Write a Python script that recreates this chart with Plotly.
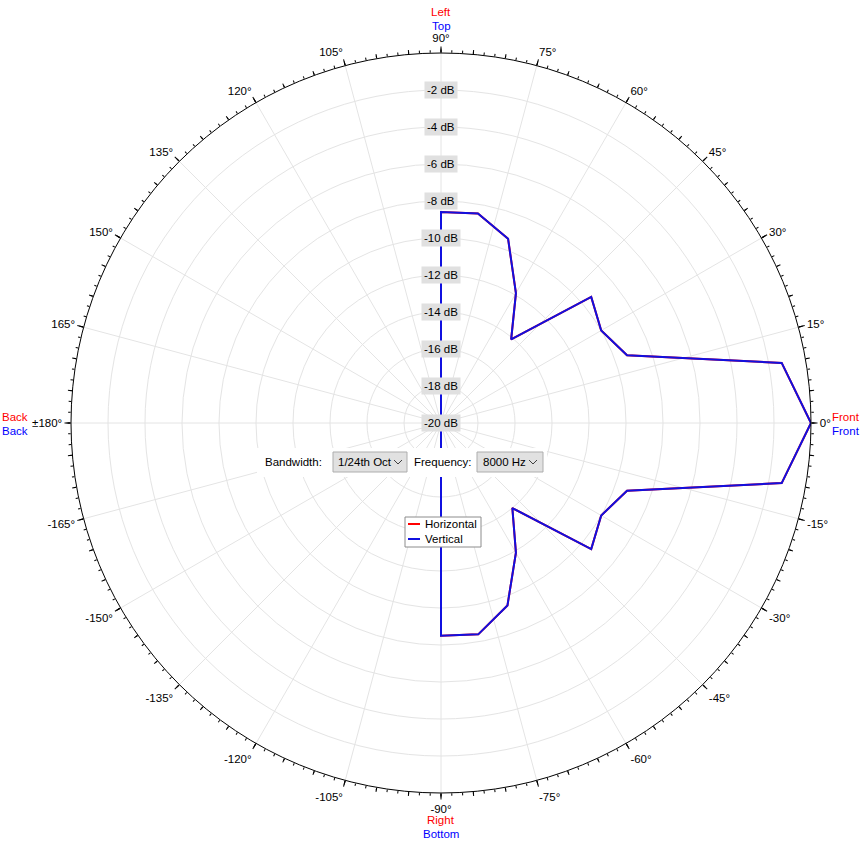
import plotly.graph_objects as go

# measured polar response, 8000 Hz, 1/24th octave (dB vs angle)
angles = list(range(0, 361, 10))
horizontal_db = [0, -1.3, -9.3, -10.0, -9.4, -14.1, -11.9, -9.4, -8.5, -8.6,
                 -20, -20, -20, -20, -20, -20, -20, -20, -20, -20, -20, -20, -20, -20, -20, -20, -20,
                 -8.5, -8.4, -9.5, -11.9, -14.0, -9.4, -10.0, -9.3, -1.3, 0]
vertical_db = [0, -1.3, -9.3, -10.0, -9.4, -14.1, -11.9, -9.4, -8.5, -8.6,
               -20, -20, -20, -20, -20, -20, -20, -20, -20, -20, -20, -20, -20, -20, -20, -20, -20,
               -8.5, -8.4, -9.5, -11.9, -14.0, -9.4, -10.0, -9.3, -1.3, 0]

angle_ticks = list(range(0, 360, 15))
angle_labels = ["0°", "15°", "30°", "45°", "60°", "75°", "90°", "105°", "120°", "135°", "150°", "165°",
                "±180°", "-165°", "-150°", "-135°", "-120°", "-105°", "-90°", "-75°", "-60°", "-45°", "-30°", "-15°"]
db_ticks = [-20, -18, -16, -14, -12, -10, -8, -6, -4, -2]
series_names = ["Horizontal", "Vertical"]
series_colors = ["#ff0000", "#1010e0"]

W, H = 867, 843
CX, CY, R = 441, 423, 370
FONT = "Liberation Sans"


def px(x):
    return x / W


def py(y):
    return 1 - y / H


dom = dict(x=[px(CX - R), px(CX + R)], y=[py(CY + R), py(CY - R)])
grid = "#e4e4e4"

fig = go.Figure()
fig.add_trace(go.Scatterpolar(r=horizontal_db, theta=angles, mode="lines", name=series_names[0],
                              line=dict(color=series_colors[0], width=2), subplot="polar"))
fig.add_trace(go.Scatterpolar(r=vertical_db, theta=angles, mode="lines", name=series_names[1],
                              line=dict(color=series_colors[1], width=2), subplot="polar"))
# empty traces so the extra tick layers get drawn
fig.add_trace(go.Scatterpolar(r=[None], theta=[0], showlegend=False, subplot="polar2"))
fig.add_trace(go.Scatterpolar(r=[None], theta=[0], showlegend=False, subplot="polar3"))

fig.update_layout(
    width=W, height=H, margin=dict(l=0, r=0, t=0, b=0), showlegend=False,
    paper_bgcolor="white", font=dict(family=FONT, size=11, color="black"),
    polar=dict(
        domain=dom, bgcolor="white",
        radialaxis=dict(range=[-20, 0], tickmode="array", tickvals=db_ticks, showticklabels=False,
                        ticks="", showline=False, gridcolor=grid, angle=90),
        angularaxis=dict(tickmode="array", tickvals=angle_ticks, ticktext=angle_labels,
                         ticks="outside", ticklen=6, tickcolor="black", linecolor="black",
                         linewidth=1, gridcolor=grid, direction="counterclockwise", rotation=0,
                         tickfont=dict(size=11.5, color="black")),
    ),
    polar2=dict(
        domain=dom, bgcolor="rgba(0,0,0,0)",
        radialaxis=dict(visible=False, range=[-20, 0]),
        angularaxis=dict(tickmode="array", tickvals=[a * 5 for a in range(72)], showticklabels=False,
                         ticks="outside", ticklen=4, tickcolor="black", showline=False, showgrid=False),
    ),
    polar3=dict(
        domain=dom, bgcolor="rgba(0,0,0,0)",
        radialaxis=dict(visible=False, range=[-20, 0]),
        angularaxis=dict(tickmode="array", tickvals=[a * 5 / 3 for a in range(216)], showticklabels=False,
                         ticks="outside", ticklen=2.5, tickcolor="black", showline=False, showgrid=False),
    ),
)

ann = []
# radial level labels
for v in db_ticks:
    ann.append(dict(x=px(CX), y=py(CY - (v + 20) / 20 * R), text=f"{v} dB", bgcolor="#e0e0e0",
                    borderpad=2, font=dict(size=11.5, color="black")))

# direction labels
for txt, col, x, y in [("Left", "#ff0000", CX, 12), ("Top", "#0000ff", CX, 26),
                       ("Right", "#ff0000", CX, 820), ("Bottom", "#0000ff", CX, 834),
                       ("Back", "#ff0000", 15, 417), ("Back", "#0000ff", 15, 431),
                       ("Front", "#ff0000", 846, 417), ("Front", "#0000ff", 846, 431)]:
    ann.append(dict(x=px(x), y=py(y), text=txt, font=dict(size=11.5, color=col)))

# control row
for txt, x in [("Bandwidth:", 263), ("1/24th Oct", 336), ("Frequency:", 412), ("8000 Hz", 481)]:
    ann.append(dict(x=px(x), y=py(462), text=txt, xanchor="left", font=dict(size=11.5, color="black")))

# legend box
for i, name in enumerate(series_names):
    ann.append(dict(x=px(423), y=py(524 + 15 * i), text=name, xanchor="left",
                    font=dict(size=11.5, color="black")))

for a in ann:
    a.update(xref="paper", yref="paper", showarrow=False, yanchor="middle")
    a.setdefault("xanchor", "center")

shapes = [
    dict(type="rect", x0=px(257), x1=px(547), y0=py(448), y1=py(477),
         fillcolor="white", line=dict(width=0)),
    dict(type="rect", x0=px(333), x1=px(407), y0=py(452), y1=py(472),
         fillcolor="#e1e1e1", line=dict(color="#adadad", width=1)),
    dict(type="rect", x0=px(477), x1=px(543), y0=py(452), y1=py(472),
         fillcolor="#e1e1e1", line=dict(color="#adadad", width=1)),
    dict(type="rect", x0=px(405), x1=px(481), y0=py(517), y1=py(547),
         fillcolor="white", line=dict(color="#8c8c8c", width=1)),
]
for cx in [398, 533]:
    shapes.append(dict(type="path",
                       path=f"M {px(cx - 4)} {py(460)} L {px(cx)} {py(464)} L {px(cx + 4)} {py(460)}",
                       line=dict(color="#404040", width=1)))
for i, col in enumerate(series_colors):
    shapes.append(dict(type="line", x0=px(408), x1=px(420), y0=py(524 + 15 * i), y1=py(524 + 15 * i),
                       line=dict(color=col, width=2)))
for s in shapes:
    s.update(xref="paper", yref="paper", layer="above")

fig.update_layout(annotations=ann, shapes=shapes)
fig.write_html("out.html", config={"displayModeBar": False},
               post_script="document.body.style.margin = '0';")
